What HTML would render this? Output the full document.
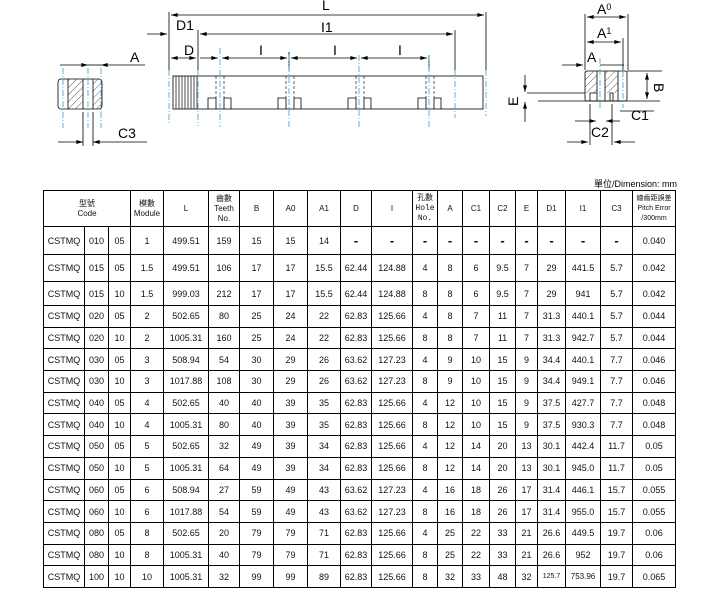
<!DOCTYPE html>
<html><head><meta charset="utf-8"><style>
body{margin:0;width:723px;height:594px;background:#fff;position:relative;overflow:hidden;font-family:"Liberation Sans","Noto Sans CJK TC",sans-serif}
svg{position:absolute;left:0;top:0}
table{position:absolute;left:43px;top:190px;border-collapse:collapse;table-layout:fixed;width:633px}
td{border:1px solid #000;text-align:center;font-size:9px;color:#111;padding:0;overflow:hidden;white-space:nowrap}
tr.h td{height:35px;font-size:8px;line-height:10px;white-space:normal}
tr.r td{height:20.7px}
.d{font-weight:bold;font-size:13px}
.unit{position:absolute;left:560px;top:177px;font-size:9px;width:117px;text-align:right}
</style></head><body>
<svg width="723" height="170" viewBox="0 0 723 170" font-family="Liberation Sans, sans-serif">
<defs>
<marker id="a" viewBox="0 0 10 6" refX="10" refY="3" markerWidth="9" markerHeight="5" orient="auto-start-reverse"><path d="M0,0L10,3L0,6z" fill="#000"/></marker>
<pattern id="h" width="5" height="5" patternUnits="userSpaceOnUse" patternTransform="rotate(45)"><line x1="0" y1="0" x2="0" y2="5" stroke="#333" stroke-width="0.8"/></pattern>
</defs>
<g stroke="#000" stroke-width="0.8" fill="none">
<rect x="58" y="79" width="44" height="30" rx="3" fill="#fff"/>
<rect x="68" y="79" width="15" height="30" fill="url(#h)" stroke="none"/>
<rect x="93" y="79" width="9" height="30" fill="url(#h)" stroke="none"/>
<line x1="68" y1="79" x2="68" y2="109"/><line x1="83" y1="79" x2="83" y2="109"/><line x1="93" y1="79" x2="93" y2="109"/>
<line x1="83" y1="112" x2="83" y2="146"/><line x1="93" y1="112" x2="93" y2="146"/>
<line x1="60" y1="65" x2="88" y2="65" marker-end="url(#a)"/><line x1="145" y1="65" x2="101" y2="65" marker-end="url(#a)"/>
<line x1="88" y1="65" x2="101" y2="65"/>
<line x1="58" y1="142" x2="83" y2="142" marker-end="url(#a)"/><line x1="147" y1="142" x2="93" y2="142" marker-end="url(#a)"/>
<rect x="173" y="76" width="310" height="33"/>
<g stroke-width="0.7"><line x1="176" y1="76" x2="176" y2="109"/><line x1="179" y1="76" x2="179" y2="109"/><line x1="182" y1="76" x2="182" y2="109"/><line x1="185" y1="76" x2="185" y2="109"/><line x1="188" y1="76" x2="188" y2="109"/><line x1="191" y1="76" x2="191" y2="109"/><line x1="194" y1="76" x2="194" y2="109"/><line x1="197" y1="76" x2="197" y2="109"/></g>
<path d="M208,109V98H216V109M224,109V98H231V109"/>
<path d="M278,109V98H286V109M294,109V98H301V109"/>
<path d="M348,109V98H356V109M364,109V98H371V109"/>
<path d="M418,109V98H426V109M434,109V98H441V109"/>
<g stroke-dasharray="3,2" stroke-width="0.6"><path d="M216,76V98M224,76V98M286,76V98M294,76V98M356,76V98M364,76V98M426,76V98M434,76V98"/></g>
<line x1="169" y1="12" x2="169" y2="70"/><line x1="486" y1="12" x2="486" y2="70"/>
<line x1="171" y1="15" x2="484" y2="15" marker-start="url(#a)" marker-end="url(#a)"/>
<line x1="455" y1="30" x2="455" y2="70"/><line x1="198" y1="30" x2="198" y2="70"/>
<line x1="200" y1="34" x2="453" y2="34" marker-start="url(#a)" marker-end="url(#a)"/>
<line x1="147" y1="34" x2="167" y2="34" marker-end="url(#a)"/>
<line x1="171" y1="58" x2="196" y2="58" marker-start="url(#a)" marker-end="url(#a)"/>
<line x1="200" y1="58" x2="218" y2="58" marker-end="url(#a)"/>
<line x1="222" y1="58" x2="287" y2="58" marker-start="url(#a)" marker-end="url(#a)"/>
<line x1="291" y1="58" x2="357" y2="58" marker-start="url(#a)" marker-end="url(#a)"/>
<line x1="361" y1="58" x2="427" y2="58" marker-start="url(#a)" marker-end="url(#a)"/>
<line x1="289" y1="52" x2="289" y2="70"/><line x1="429" y1="55" x2="429" y2="70"/>
<rect x="585" y="71" width="42" height="30" rx="2" fill="#fff"/>
<rect x="585" y="71" width="12" height="22" fill="url(#h)" stroke="none"/>
<rect x="605" y="71" width="13" height="22" fill="url(#h)" stroke="none"/>
<path d="M597,71V101M605,71V101M618,71V101M590,101V93H597M610,101V93H613V101"/>
<line x1="538" y1="101" x2="660" y2="101"/><line x1="627" y1="71" x2="662" y2="71"/>
<line x1="527" y1="93" x2="585" y2="93"/>
<line x1="647" y1="73" x2="647" y2="99" marker-start="url(#a)" marker-end="url(#a)"/>
<line x1="525" y1="75" x2="525" y2="92" marker-end="url(#a)"/><line x1="525" y1="122" x2="525" y2="102" marker-end="url(#a)"/>
<line x1="585" y1="14" x2="585" y2="70"/><line x1="628" y1="14" x2="628" y2="70"/><line x1="623" y1="38" x2="623" y2="70"/>
<line x1="587" y1="17" x2="626" y2="17" marker-start="url(#a)" marker-end="url(#a)"/>
<line x1="587" y1="42" x2="621" y2="42" marker-start="url(#a)" marker-end="url(#a)"/>
<line x1="562" y1="65" x2="583" y2="65" marker-end="url(#a)"/><line x1="600" y1="65" x2="624" y2="65"/>
<line x1="590" y1="104" x2="590" y2="145"/><line x1="612" y1="104" x2="612" y2="145"/>
<line x1="575" y1="121" x2="596" y2="121" marker-end="url(#a)"/><line x1="620" y1="121" x2="606" y2="121" marker-end="url(#a)"/>
<line x1="567" y1="142" x2="588" y2="142" marker-end="url(#a)"/><line x1="635" y1="142" x2="614" y2="142" marker-end="url(#a)"/>
<line x1="620" y1="111" x2="654" y2="111"/>
</g>
<g stroke="#3aa0d0" stroke-width="0.8" stroke-dasharray="6,2,1,2" fill="none">
<path d="M63,68V128M88,68V128M101,68V128"/>
<path d="M169,70V124M198,70V126M220,48V127M289,55V127M359,55V127M429,55V127M455,70V118M486,70V116"/>
<path d="M600,58V110M623,71V108"/>
</g>
<g font-size="14" fill="#000">
<text x="130" y="62">A</text><text x="118" y="138">C3</text>
<text x="322" y="10">L</text><text x="176" y="30">D1</text><text x="321" y="32">I1</text>
<text x="184" y="55">D</text><text x="259" y="55">I</text><text x="333" y="55">I</text><text x="398" y="55">I</text>
<text x="597" y="14">A<tspan font-size="9" dy="-4">0</tspan></text>
<text x="597" y="38">A<tspan font-size="9" dy="-4">1</tspan></text>
<text x="587" y="62">A</text>
<text x="631" y="120">C1</text><text x="591" y="137">C2</text>
<text transform="translate(654,83) rotate(90)">B</text>
<text transform="translate(518,106) rotate(-90)">E</text>
</g>
</svg>
<div class="unit">單位/Dimension: mm</div>
<table>
<colgroup><col style="width:41px"><col style="width:24px"><col style="width:22px"><col style="width:33px"><col style="width:45px"><col style="width:31px"><col style="width:34px"><col style="width:34px"><col style="width:33px"><col style="width:31px"><col style="width:41px"><col style="width:25px"><col style="width:25px"><col style="width:27px"><col style="width:26px"><col style="width:22px"><col style="width:28px"><col style="width:35px"><col style="width:32px"><col style="width:43px"></colgroup>
<tr class="h"><td colspan="3">型號<br>Code</td><td>模數<br>Module</td><td>L</td><td>齒數<br>Teeth<br>No.</td><td>B</td><td>A0</td><td>A1</td><td>D</td><td>I</td><td style="font-family:'Liberation Mono','Noto Sans CJK TC',monospace">孔數<br>Hole<br>No.</td><td>A</td><td>C1</td><td>C2</td><td>E</td><td>D1</td><td>I1</td><td>C3</td><td style="font-size:7px">總齒距誤差<br>Pitch Error<br>/300mm</td></tr>
<tr class="r"><td style="height:27px">CSTMQ</td><td>010</td><td>05</td><td>1</td><td>499.51</td><td>159</td><td>15</td><td>15</td><td>14</td><td class="d">-</td><td class="d">-</td><td class="d">-</td><td class="d">-</td><td class="d">-</td><td class="d">-</td><td class="d">-</td><td class="d">-</td><td class="d">-</td><td class="d">-</td><td>0.040</td></tr>
<tr class="r"><td style="height:26px">CSTMQ</td><td>015</td><td>05</td><td>1.5</td><td>499.51</td><td>106</td><td>17</td><td>17</td><td>15.5</td><td>62.44</td><td>124.88</td><td>4</td><td>8</td><td>6</td><td>9.5</td><td>7</td><td>29</td><td>441.5</td><td>5.7</td><td>0.042</td></tr>
<tr class="r"><td style="height:23px">CSTMQ</td><td>015</td><td>10</td><td>1.5</td><td>999.03</td><td>212</td><td>17</td><td>17</td><td>15.5</td><td>62.44</td><td>124.88</td><td>8</td><td>8</td><td>6</td><td>9.5</td><td>7</td><td>29</td><td>941</td><td>5.7</td><td>0.042</td></tr>
<tr class="r"><td>CSTMQ</td><td>020</td><td>05</td><td>2</td><td>502.65</td><td>80</td><td>25</td><td>24</td><td>22</td><td>62.83</td><td>125.66</td><td>4</td><td>8</td><td>7</td><td>11</td><td>7</td><td>31.3</td><td>440.1</td><td>5.7</td><td>0.044</td></tr>
<tr class="r"><td>CSTMQ</td><td>020</td><td>10</td><td>2</td><td>1005.31</td><td>160</td><td>25</td><td>24</td><td>22</td><td>62.83</td><td>125.66</td><td>8</td><td>8</td><td>7</td><td>11</td><td>7</td><td>31.3</td><td>942.7</td><td>5.7</td><td>0.044</td></tr>
<tr class="r"><td>CSTMQ</td><td>030</td><td>05</td><td>3</td><td>508.94</td><td>54</td><td>30</td><td>29</td><td>26</td><td>63.62</td><td>127.23</td><td>4</td><td>9</td><td>10</td><td>15</td><td>9</td><td>34.4</td><td>440.1</td><td>7.7</td><td>0.046</td></tr>
<tr class="r"><td>CSTMQ</td><td>030</td><td>10</td><td>3</td><td>1017.88</td><td>108</td><td>30</td><td>29</td><td>26</td><td>63.62</td><td>127.23</td><td>8</td><td>9</td><td>10</td><td>15</td><td>9</td><td>34.4</td><td>949.1</td><td>7.7</td><td>0.046</td></tr>
<tr class="r"><td>CSTMQ</td><td>040</td><td>05</td><td>4</td><td>502.65</td><td>40</td><td>40</td><td>39</td><td>35</td><td>62.83</td><td>125.66</td><td>4</td><td>12</td><td>10</td><td>15</td><td>9</td><td>37.5</td><td>427.7</td><td>7.7</td><td>0.048</td></tr>
<tr class="r"><td>CSTMQ</td><td>040</td><td>10</td><td>4</td><td>1005.31</td><td>80</td><td>40</td><td>39</td><td>35</td><td>62.83</td><td>125.66</td><td>8</td><td>12</td><td>10</td><td>15</td><td>9</td><td>37.5</td><td>930.3</td><td>7.7</td><td>0.048</td></tr>
<tr class="r"><td>CSTMQ</td><td>050</td><td>05</td><td>5</td><td>502.65</td><td>32</td><td>49</td><td>39</td><td>34</td><td>62.83</td><td>125.66</td><td>4</td><td>12</td><td>14</td><td>20</td><td>13</td><td>30.1</td><td>442.4</td><td>11.7</td><td>0.05</td></tr>
<tr class="r"><td>CSTMQ</td><td>050</td><td>10</td><td>5</td><td>1005.31</td><td>64</td><td>49</td><td>39</td><td>34</td><td>62.83</td><td>125.66</td><td>8</td><td>12</td><td>14</td><td>20</td><td>13</td><td>30.1</td><td>945.0</td><td>11.7</td><td>0.05</td></tr>
<tr class="r"><td>CSTMQ</td><td>060</td><td>05</td><td>6</td><td>508.94</td><td>27</td><td>59</td><td>49</td><td>43</td><td>63.62</td><td>127.23</td><td>4</td><td>16</td><td>18</td><td>26</td><td>17</td><td>31.4</td><td>446.1</td><td>15.7</td><td>0.055</td></tr>
<tr class="r"><td>CSTMQ</td><td>060</td><td>10</td><td>6</td><td>1017.88</td><td>54</td><td>59</td><td>49</td><td>43</td><td>63.62</td><td>127.23</td><td>8</td><td>16</td><td>18</td><td>26</td><td>17</td><td>31.4</td><td>955.0</td><td>15.7</td><td>0.055</td></tr>
<tr class="r"><td>CSTMQ</td><td>080</td><td>05</td><td>8</td><td>502.65</td><td>20</td><td>79</td><td>79</td><td>71</td><td>62.83</td><td>125.66</td><td>4</td><td>25</td><td>22</td><td>33</td><td>21</td><td>26.6</td><td>449.5</td><td>19.7</td><td>0.06</td></tr>
<tr class="r"><td>CSTMQ</td><td>080</td><td>10</td><td>8</td><td>1005.31</td><td>40</td><td>79</td><td>79</td><td>71</td><td>62.83</td><td>125.66</td><td>8</td><td>25</td><td>22</td><td>33</td><td>21</td><td>26.6</td><td>952</td><td>19.7</td><td>0.06</td></tr>
<tr class="r"><td>CSTMQ</td><td>100</td><td>10</td><td>10</td><td>1005.31</td><td>32</td><td>99</td><td>99</td><td>89</td><td>62.83</td><td>125.66</td><td>8</td><td>32</td><td>33</td><td>48</td><td>32</td><td style="font-size:7px">125.7</td><td style="font-size:8px">753.96</td><td>19.7</td><td>0.065</td></tr>
</table>
</body></html>
